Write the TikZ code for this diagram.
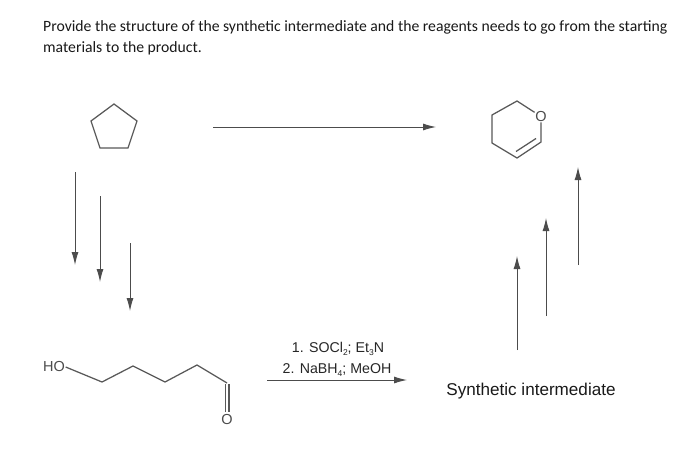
\documentclass[tikz,border=0pt]{standalone}
\usepackage{fontspec}
\setmainfont{Carlito}
\newfontfamily\chemfont{Liberation Sans}
\usetikzlibrary{arrows.meta}
\newcommand{\lowidx}[1]{\raisebox{-2.6pt}{\fontsize{8.5}{9}\selectfont #1}}
\tikzset{
  bond/.style={draw=black!65,line width=1.25pt,line join=miter},
  rxn/.style={draw=black!70,line width=0.95pt,-{Latex[length=13pt,width=7pt]}},
  title/.style={anchor=west,inner sep=0pt,text=black!90,font=\fontsize{15.7}{18}\selectfont},
  atom/.style={inner sep=0.6pt,text=black!70,font=\chemfont\fontsize{14.5}{16}\selectfont},
  cond/.style={inner sep=0pt,text=black!85,font=\chemfont\fontsize{14.2}{16}\selectfont},
  lab/.style={inner sep=0pt,text=black!90,font=\chemfont\fontsize{17.1}{20}\selectfont}
}
\begin{document}
\begin{tikzpicture}[x=1pt,y=-1pt]
\useasboundingbox (0,0) rectangle (700,468);
\fill[white] (0,0) rectangle (700,468);
\node[title] (t1) at (43,27) {Provide the structure of the synthetic intermediate and the reagents needs to go from the starting};
\node[title] (t2) at (43,48) {materials to the product.};
% cyclopentane
\coordinate (p1) at (114,104);
\coordinate (p2) at (137,121);
\coordinate (p3) at (128,148);
\coordinate (p4) at (100,148);
\coordinate (p5) at (91,121);
\draw[bond] (p1)--(p2)--(p3)--(p4)--(p5)--cycle;
% dihydropyran
\node[atom] (O1) at (541,116.5) {O};
\coordinate (r1) at (517,101);
\coordinate (r2) at (492,115);
\coordinate (r3) at (492,143);
\coordinate (r4) at (517,158);
\coordinate (r5) at (541,142);
\coordinate (d1) at (516,151.5);
\coordinate (d2) at (536,138.5);
\draw[bond] (O1)--(r1)--(r2)--(r3)--(r4)--(r5)--(O1);
\draw[bond] (d1)--(d2);
% chain
\node[atom] (HO) at (54,367) {HO};
\node[atom] (O2) at (227,420) {O};
\coordinate (c1) at (102,382);
\coordinate (c2) at (133,366);
\coordinate (c3) at (165,382);
\coordinate (c4) at (197,365);
\coordinate (c5) at (227,383);
\coordinate (e1) at (225.5,384);
\coordinate (e2) at (225.5,412);
\coordinate (e3) at (229,384);
\coordinate (e4) at (229,412);
\draw[bond] (HO.east)--(c1)--(c2)--(c3)--(c4)--(c5);
\draw[bond] (e1)--(e2) (e3)--(e4);
% arrows
\coordinate (a1s) at (213,127); \coordinate (a1e) at (436,127);
\draw[rxn] (a1s)--(a1e);
\coordinate (a2s) at (75,172); \coordinate (a2e) at (75,265);
\draw[rxn] (a2s)--(a2e);
\coordinate (a3s) at (100,196); \coordinate (a3e) at (100,282);
\draw[rxn] (a3s)--(a3e);
\coordinate (a4s) at (130,243); \coordinate (a4e) at (130,311);
\draw[rxn] (a4s)--(a4e);
\coordinate (a5s) at (517,350); \coordinate (a5e) at (517,256);
\draw[rxn] (a5s)--(a5e);
\coordinate (a6s) at (546,316); \coordinate (a6e) at (546,218);
\draw[rxn] (a6s)--(a6e);
\coordinate (a7s) at (578,265); \coordinate (a7e) at (578,167);
\draw[rxn] (a7s)--(a7e);
\coordinate (a8s) at (267,380); \coordinate (a8e) at (407,380);
\draw[rxn] (a8s)--(a8e);
% labels
\node[cond] (c1t) at (338,349) {1. SOCl\lowidx{2}; Et\lowidx{3}N};
\node[cond] (c2t) at (337,370) {2. NaBH\lowidx{4}; MeOH};
\node[lab] (si) at (531,391) {Synthetic intermediate};
\end{tikzpicture}
\end{document}
